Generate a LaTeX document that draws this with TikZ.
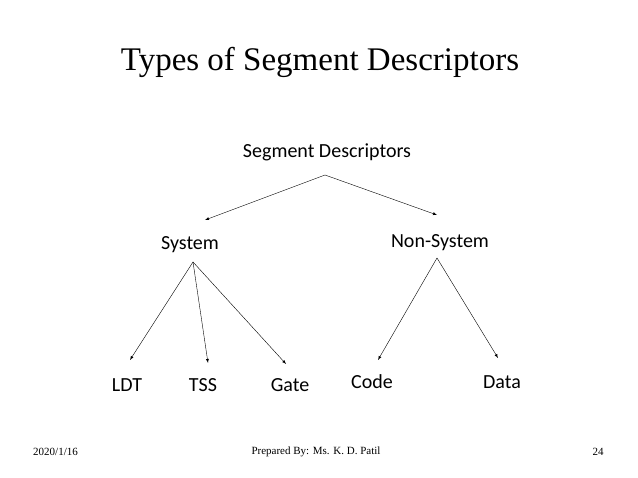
\documentclass[tikz,border=0pt]{standalone}
\usepackage{fontspec}
\setmainfont{Liberation Serif}
\newfontfamily\carlitofont{Carlito}
\begin{document}
\begin{tikzpicture}[x=1pt,y=-1pt,
  lbl/.style={font=\carlitofont\fontsize{20}{24}\selectfont,inner sep=0pt},
  arr/.style={-latex,thin},
  foot/.style={font=\fontsize{11}{13}\selectfont,inner sep=0pt}]
\useasboundingbox (0,0) rectangle (638,478);
\node[font=\fontsize{33}{38}\selectfont] (title) at (320,62) {Types of Segment Descriptors};
\node[lbl] (sd) at (327,152) {Segment Descriptors};
\node[lbl] (sys) at (190,245) {System};
\node[lbl] (ns) at (440,243) {Non-System};
\node[lbl] (ldt) at (127,385) {LDT};
\node[lbl] (tss) at (203,385) {TSS};
\node[lbl] (gate) at (290,385) {Gate};
\node[lbl] (code) at (372,382) {Code};
\node[lbl] (data) at (502,382) {Data};
\coordinate (sdb) at (325,175);
\coordinate (sysb) at (193,262);
\coordinate (nsb) at (437,258);
\draw[arr] (sdb) -- (205,220) coordinate (a1);
\draw[arr] (sdb) -- (437,215) coordinate (a2);
\draw[arr] (sysb) -- (130,360) coordinate (a3);
\draw[arr] (sysb) -- (208,363) coordinate (a4);
\draw[arr] (sysb) -- (286,364) coordinate (a5);
\draw[arr] (nsb) -- (378,360) coordinate (a6);
\draw[arr] (nsb) -- (498,358) coordinate (a7);
\node[foot,anchor=west] (f1) at (33,452) {2020/1/16};
\node[foot] (f2) at (316,452) {Prepared By: Ms. K. D. Patil};
\node[foot] (f3) at (598,452) {24};
\end{tikzpicture}
\end{document}
